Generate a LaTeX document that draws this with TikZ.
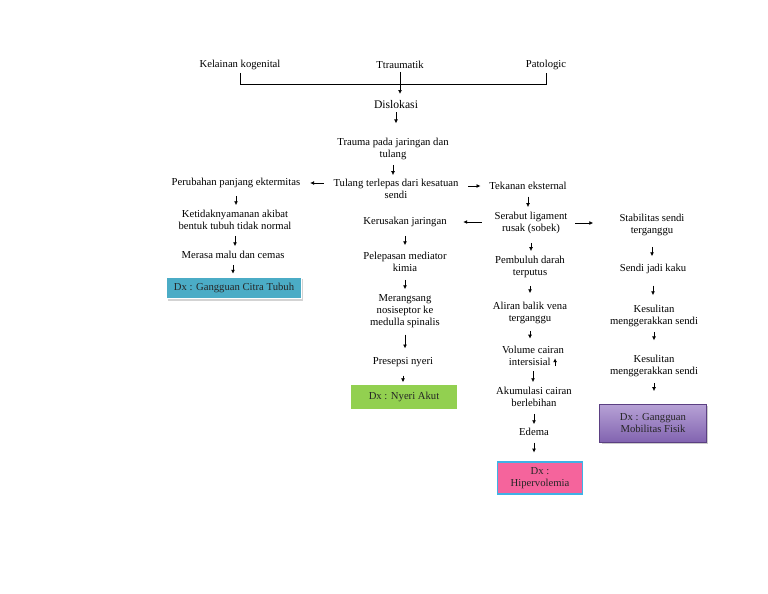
\documentclass[tikz,border=0pt]{standalone}
\usepackage{fontspec}
\setmainfont{Liberation Serif}
\usepackage{tikz}
\usetikzlibrary{arrows.meta,shadows}
\definecolor{citrafill}{HTML}{4BACC6}
\definecolor{nyerifill}{HTML}{92D050}
\definecolor{hipfill}{HTML}{F5649C}
\definecolor{hipline}{HTML}{3FB2E6}
\definecolor{mobtop}{HTML}{B7A2D6}
\definecolor{mobbot}{HTML}{8264B0}
\definecolor{mobline}{HTML}{5B3F82}
\begin{document}
\begin{tikzpicture} [x=1.03125pt,y=-1.03125pt,>={Latex[length=4pt,width=4pt]},
    txt/.style={inner sep=0pt,align=center,font=\fontsize{11}{12.5}\selectfont},
    arr/.style={->,line width=0.7pt},
    dxbox/.style={txt,text=black!85}]
  \useasboundingbox (0,0) rectangle (768,594);
                      % causes
  \node[txt] (kel) at (240,65) {Kelainan kogenital};
  \node[txt] (tra) at (400,65) {Ttraumatik};
  \node[txt] (pat) at (546,65) {Patologic};
  \coordinate (bar) at (398,84); % bracket line
  \draw [line width=0.8pt,shorten <=3pt,shorten >=3pt] (kel.south) -- (kel.south |- bar) -- (pat.south |- bar) -- (pat.south);
  \node[txt,font=\fontsize{12}{14}\selectfont] (dis) at (396,105) {Dislokasi};
  \draw [arr,shorten <=3pt,shorten >=7pt] (tra) -- (tra |- dis.north);
  \node[txt] (trm) at (393,149) {Trauma pada jaringan dan\\tulang};
  \node[txt] (tul) at (396,189) {Tulang terlepas dari kesatuan\\sendi};
  \draw [arr,shorten <=3pt,shorten >=15pt] (dis) -- (dis |- trm.north);
  \draw [arr,shorten <=5pt,shorten >=4pt] (trm) -- (trm |- tul.north);
					 % left branch
  \node[txt] (per) at (236,183) {Perubahan panjang ektermitas};
  \node[txt] (ket) at (235,220) {Ketidaknyamanan akibat\\bentuk tubuh tidak normal};
  \node[txt] (mal) at (233,255) {Merasa malu dan cemas};
  \node[dxbox,fill=citrafill,draw=white,line width=1.5pt,minimum width=139pt,minimum height=22pt,
        drop shadow={shadow xshift=1.5pt,shadow yshift=-2pt,opacity=0.35}] (citra) at (234,288) {Dx : Gangguan Citra Tubuh};
  \draw [arr,shorten <=10pt,shorten >=10pt] (tul.west |- per) -- (per);
  \draw [arr,shorten <=8pt,shorten >=5pt] (per) -- (per |- ket.north);
  \draw [arr,shorten <=6pt,shorten >=5pt] (ket) -- (ket |- mal.north);
  \draw [arr,shorten <=6pt,shorten >=3pt] (mal) -- (mal |- citra.north);
					 % middle branch
  \node[txt] (ker) at (405,222) {Kerusakan jaringan};
  \node[txt] (pel) at (405,262) {Pelepasan mediator\\kimia};
  \node[txt] (mer) at (405,311) {Merangsang\\nosiseptor ke\\medulla spinalis};
  \node[txt] (pre) at (403,362) {Presepsi nyeri};
  \node[dxbox,fill=nyerifill,minimum width=109pt,minimum height=24pt] (nyeri) at (404,397) {Dx : Nyeri Akut};
  \draw [arr,shorten <=9pt,shorten >=7pt] (ker) -- (ker |- pel.north);
  \draw [arr,shorten <=8pt,shorten >=5pt] (pel) -- (pel |- mer.north);
  \draw [arr,shorten <=7pt,shorten >=9pt] (mer) -- (mer |- pre.north);
  \draw [arr,shorten <=9pt,shorten >=3pt] (pre) -- (pre |- nyeri.north);
					 % right-middle branch
  \node[txt] (tek) at (528,186) {Tekanan eksternal};
  \node[txt] (ser) at (531,223) {Serabut ligament\\rusak (sobek)};
  \node[txt] (pem) at (530,267) {Pembuluh darah\\terputus};
  \node[txt] (ali) at (530,313) {Aliran balik vena\\terganggu};
  \node[txt] (vol) at (533,356) {Volume cairan\\intersisial \tikz[baseline=0pt]\draw[->,line width=0.6pt] (0,-1pt) -- (0,7pt);};
  \node[txt] (aku) at (534,397) {Akumulasi cairan\\berlebihan};
  \node[txt] (ede) at (534,432) {Edema};
  \node[dxbox,fill=hipfill,draw=hipline,line width=1.5pt,minimum width=88pt,minimum height=33pt] (hip) at (540,478) {Dx :\\Hipervolemia};
  \draw [arr,shorten <=10pt,shorten >=9pt] (tul.east |- tek) -- (tek);
  \draw [arr,shorten <=7pt,shorten >=5pt] (tek) -- (tek |- ser.north);
  \draw [arr,shorten <=13pt,shorten >=17pt] (ser.west |- ker) -- (ker);
  \draw [arr,shorten <=9pt,shorten >=5pt] (ser) -- (ser |- pem.north);
  \draw [arr,shorten <=8pt,shorten >=9pt] (pem) -- (pem |- ali.north);
  \draw [arr,shorten <=7pt,shorten >=7pt] (ali) -- (ali |- vol.north);
  \draw [arr,shorten <=5pt,shorten >=5pt] (vol) -- (vol |- aku.north);
  \draw [arr,shorten <=7pt,shorten >=4pt] (aku) -- (aku |- ede.north);
  \draw [arr,shorten <=7pt,shorten >=9pt] (ede) -- (ede |- hip.north);
					 % right branch
  \node[txt] (sta) at (652,225) {Stabilitas sendi\\terganggu};
  \node[txt] (kak) at (653,269) {Sendi jadi kaku};
  \node[txt] (kesa) at (654,316) {Kesulitan\\menggerakkan sendi};
  \node[txt] (kesb) at (654,366) {Kesulitan\\menggerakkan sendi};
  \node[dxbox,top color=mobtop,bottom color=mobbot,draw=mobline,line width=0.8pt,minimum width=110pt,minimum height=39pt,
        drop shadow={shadow xshift=2pt,shadow yshift=-2pt,opacity=0.4}] (mob) at (653,423) {Dx : Gangguan\\Mobilitas Fisik};
  \draw [arr,shorten <=8pt,shorten >=27pt] (ser) -- (ser -| sta.west);
  \draw [arr,shorten <=11pt,shorten >=8pt] (sta) -- (sta |- kak.north);
  \draw [arr,shorten <=12pt,shorten >=10pt] (kak) -- (kak |- kesa.north);
  \draw [arr,shorten <=5pt,shorten >=15pt] (kesa) -- (kesa |- kesb.north);
  \draw [arr,shorten <=6pt,shorten >=13pt] (kesb) -- (kesb |- mob.north);
\end{tikzpicture}
\end{document}
